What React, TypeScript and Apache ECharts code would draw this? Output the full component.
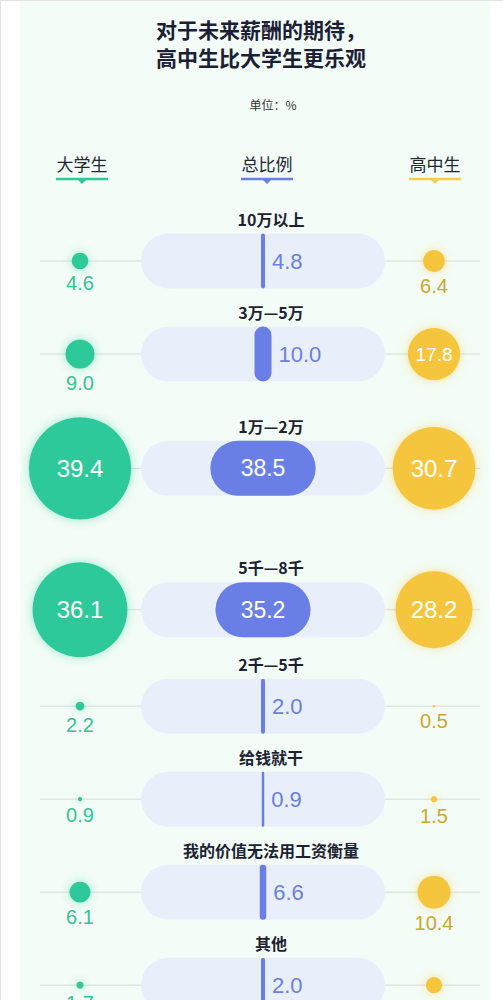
import React, { useEffect, useRef } from "react";
import * as echarts from "echarts";

// ---------- data ----------
const categories = [
  "10万以上",
  "3万—5万",
  "1万—2万",
  "5千—8千",
  "2千—5千",
  "给钱就干",
  "我的价值无法用工资衡量",
  "其他",
];
const college = [4.6, 9.0, 39.4, 36.1, 2.2, 0.9, 6.1, 1.7];
const total = [4.8, 10.0, 38.5, 35.2, 2.0, 0.9, 6.6, 2.0];
const highSchool = [6.4, 17.8, 30.7, 28.2, 0.5, 1.5, 10.4, 4.5];
const columnNames = ["大学生", "总比例", "高中生"];
const titleLines = ["对于未来薪酬的期待，", "高中生比大学生更乐观"];
const unitLabel = "单位：%";

// ---------- style / layout ----------
const FONT = "'Liberation Sans', 'Noto Sans CJK SC', sans-serif";
const CJK = "'Noto Sans CJK SC', sans-serif";
const H = 1000;
const GREEN = "#2ec99b";
const BLUE = "#6a7fe6";
const YELLOW = "#f5c63e";
const PX_PER_UNIT = 3.1;
const HALF = 122 / PX_PER_UNIT;

const sizeOf = (v: number) => 4.5 * Math.pow(v, 0.85);

// row positions derived from circle sizes (bigger circles -> more room)
const rowY: number[] = [];
(() => {
  const rMax = (i: number) => Math.max(sizeOf(college[i]), sizeOf(highSchool[i])) / 2;
  let y = 261;
  categories.forEach((_, i) => {
    if (i > 0) {
      const s = Math.max(0, rMax(i - 1) + rMax(i) - 35);
      y += 93 + 0.012 * s * s;
    }
    rowY.push(y);
  });
})();

const circleSeries = (
  vals: number[],
  idx: number,
  color: string,
  shadow: string,
  textColor: string
) => ({
  type: "scatter",
  xAxisIndex: idx,
  yAxisIndex: idx,
  z: 3,
  silent: true,
  symbol: "circle",
  symbolSize: (val: number[]) => sizeOf(val[2]),
  itemStyle: { color, opacity: 1, shadowBlur: 10, shadowColor: shadow },
  label: {
    show: true,
    fontFamily: FONT,
    formatter: (p: any) => p.value[2].toFixed(1),
  },
  data: vals.map((v, i) => ({
    value: [0, rowY[i], v],
    label:
      v >= 15
        ? { position: "inside", color: "#fff", fontSize: sizeOf(v) > 70 ? 24 : 19 }
        : { position: "bottom", distance: 4, color: textColor, fontSize: 20 },
  })),
});

const headerGraphics = () => {
  const xs = [82, 267, 435];
  const cols = [GREEN, BLUE, "#f3d04a"];
  const els: any[] = [];
  xs.forEach((x, i) => {
    els.push({
      type: "text",
      x,
      y: 163,
      style: {
        text: columnNames[i],
        fill: "#222736",
        fontSize: 17,
        fontFamily: CJK,
        align: "center",
        verticalAlign: "middle",
      },
    });
    els.push({
      type: "line",
      shape: { x1: x - 26, y1: 179, x2: x + 26, y2: 179 },
      style: { stroke: cols[i], lineWidth: 2.5 },
    });
    els.push({
      type: "polygon",
      shape: { points: [[x - 4, 180], [x + 4, 180], [x, 184]] },
      style: { fill: cols[i] },
    });
  });
  return els;
};

export default function App() {
  const ref = useRef<HTMLDivElement>(null);
  useEffect(() => {
    document.body.style.margin = "0";
    if (!ref.current) return;
    const chart = echarts.init(ref.current, undefined, { renderer: "svg" });
    const option: any = {
      animation: false,
      backgroundColor: "transparent",
      title: [
        {
          text: titleLines.join("\n"),
          left: 256,
          top: 10,
          textAlign: "center",
          textStyle: {
            fontSize: 21,
            fontWeight: "bold",
            color: "#1b2035",
            lineHeight: 28,
            fontFamily: CJK,
          },
        },
        {
          text: unitLabel,
          left: 268,
          top: 93,
          textAlign: "center",
          textStyle: { fontSize: 12, fontWeight: "normal", color: "#333", fontFamily: CJK },
        },
      ],
      graphic: headerGraphics(),
      grid: [
        { left: 40, top: 0, width: 80, height: H },
        { left: 141, top: 0, width: 244, height: H },
        { left: 394, top: 0, width: 80, height: H },
      ],
      xAxis: [
        { gridIndex: 0, type: "category", data: [columnNames[0]], show: false },
        { gridIndex: 1, type: "value", min: -HALF, max: HALF, show: false },
        { gridIndex: 2, type: "category", data: [columnNames[2]], show: false },
      ],
      yAxis: [0, 1, 2].map((g) => ({
        gridIndex: g,
        type: "value",
        min: 0,
        max: H,
        inverse: true,
        show: false,
      })),
      series: [
        {
          type: "custom",
          xAxisIndex: 1,
          yAxisIndex: 1,
          z: 1,
          silent: true,
          clip: false,
          data: total.map((v, i) => [v, rowY[i], i]),
          renderItem: (params: any, api: any) => {
            const v = api.value(0);
            const ry = api.value(1);
            const idx = api.value(2);
            const c = api.coord([0, ry]);
            const cs = params.coordSys;
            const PH = 55;
            const top = c[1] - PH / 2;
            const w = Math.max(v < 1 ? 2.5 : 4, api.size([v, 0])[0] - 14);
            const children: any[] = [
              {
                type: "line",
                shape: { x1: cs.x - 101, y1: c[1], x2: cs.x, y2: c[1] },
                style: { stroke: "#d6dcd8", lineWidth: 1 },
              },
              {
                type: "line",
                shape: { x1: cs.x + cs.width, y1: c[1], x2: cs.x + cs.width + 95, y2: c[1] },
                style: { stroke: "#d6dcd8", lineWidth: 1 },
              },
              {
                type: "rect",
                shape: { x: cs.x, y: top, width: cs.width, height: PH, r: PH / 2 },
                style: { fill: "#e9effa" },
              },
              {
                type: "text",
                x: c[0] + 8,
                y: top - 15,
                style: {
                  text: categories[idx],
                  fill: "#1d2233",
                  fontSize: 16,
                  fontWeight: "bold",
                  fontFamily: CJK,
                  align: "center",
                  verticalAlign: "middle",
                },
              },
              {
                type: "rect",
                shape: { x: c[0] - w / 2, y: top, width: w, height: PH, r: Math.min(w / 2, PH / 2) },
                style: { fill: BLUE },
              },
            ];
            if (v >= 20) {
              children.push({
                type: "text",
                x: c[0],
                y: c[1],
                style: {
                  text: v.toFixed(1),
                  fill: "#fff",
                  fontSize: 23,
                  fontFamily: FONT,
                  align: "center",
                  verticalAlign: "middle",
                },
              });
            } else {
              children.push({
                type: "text",
                x: c[0] + w / 2 + 7,
                y: c[1],
                style: {
                  text: v.toFixed(1),
                  fill: "#6b7fdc",
                  fontSize: 22,
                  fontFamily: FONT,
                  align: "left",
                  verticalAlign: "middle",
                },
              });
            }
            return { type: "group", children };
          },
        },
        circleSeries(college, 0, GREEN, "rgba(46,201,155,0.45)", "#34c393"),
        circleSeries(highSchool, 2, YELLOW, "rgba(245,198,62,0.5)", "#c9a82c"),
      ],
    };
    chart.setOption(option);
    return () => chart.dispose();
  }, []);
  return (
    <div
      ref={ref}
      style={{
        width: 503,
        height: 1000,
        background:
          "linear-gradient(to right, #ffffff 20px, #f3fcf6 20px, #f3fcf6 490px, #ffffff 490px)",
        boxShadow: "inset 1px 1px 0 #e2e2e2",
      }}
    />
  );
}
